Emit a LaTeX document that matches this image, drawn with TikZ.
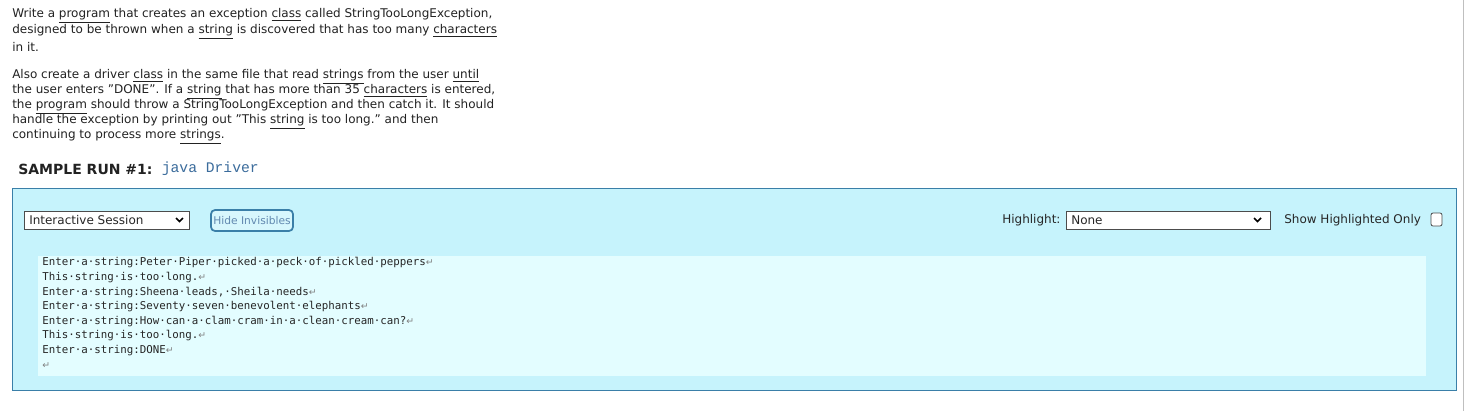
\documentclass[tikz,border=0pt]{standalone}
\usepackage{fontspec}
\setmainfont{DejaVu Sans}
\newfontfamily\dmono{DejaVu Sans Mono}
\newfontfamily\cour{Liberation Mono}
\definecolor{txt}{HTML}{222222}
\definecolor{panel}{HTML}{C6F3FC}
\definecolor{inner}{HTML}{E3FDFF}
\definecolor{pborder}{HTML}{3A7FA8}
\definecolor{jblue}{HTML}{3B6C9C}
\newcommand{\ul}[1]{\underline{#1}}
\newcommand{\rt}{{\color{gray}\fontspec{DejaVu Sans}\scriptsize ↵}}
\begin{document}
\begin{tikzpicture}[x=0.75pt,y=-0.75pt,
  para/.style={anchor=west,inner sep=0pt,font=\fontsize{9}{10}\selectfont,text=txt},
  mono/.style={anchor=west,inner sep=0pt,font=\dmono\fontsize{8.1}{9}\selectfont,text=black!85},
  ui/.style={anchor=west,inner sep=0pt,font=\fontsize{9}{10}\selectfont,text=black!85}]
\useasboundingbox (0,0) rectangle (1469,411);
\fill[white] (0,0) rectangle (1469,411);
\node[para] (l1) at (12,16) {Write a \ul{program} that creates an exception \ul{class} called StringTooLongException,};
\node[para] (l2) at (12,32) {designed to be thrown when a \ul{string} is discovered that has too many \ul{characters}};
\node[para] (l3) at (12,47) {in it.};
\node[para] (l4) at (12,77) {Also create a driver \ul{class} in the same file that read \ul{strings} from the user \ul{until}};
\node[para] (l5) at (12,92) {the user enters "DONE". If a \ul{string} that has more than 35 \ul{characters} is entered,};
\node[para] (l6) at (12,107) {the \ul{program} should throw a StringTooLongException and then catch it. It should};
\node[para] (l7) at (12,122) {handle the exception by printing out "This \ul{string} is too long." and then};
\node[para] (l8) at (12,137) {continuing to process more \ul{strings}.};
\node[anchor=west,inner sep=0pt,font=\bfseries\fontsize{10.5}{12}\selectfont,text=txt] (sr) at (18,169) {SAMPLE RUN \#1:};
\node[anchor=west,inner sep=0pt,font=\cour\fontsize{11}{12}\selectfont,text=jblue] (jd) at (sr.east) {\ java Driver};
% panel
\draw[fill=panel,draw=pborder,line width=0.75pt] (12,188) rectangle (1456,390);
\draw[black!25,line width=0.75pt] (1463,0) -- (1463,411);
\fill[inner] (38,256) rectangle (1426,376);
% controls
\draw[fill=white,draw=black!70,line width=0.6pt] (24,211) rectangle (189,229);
\node[ui] (is) at (29,220) {Interactive Session};
\draw[line width=1.1pt,black] (176,218) -- (179.5,221.5) -- (183,218);
\draw[fill=panel!70!white,draw=pborder,line width=1.3pt,rounded corners=3pt] (211,210) rectangle (293,231);
\node[anchor=center,inner sep=0pt,font=\fontsize{8}{9}\selectfont,text=jblue!80] (hi) at (252,220.5) {Hide Invisibles};
\node[ui] (hl) at (1002,220) {Highlight:};
\draw[fill=white,draw=black!70,line width=0.6pt] (1066,211) rectangle (1270,229);
\node[ui] (none) at (1071,220) {None};
\draw[line width=1.1pt,black] (1254,218) -- (1257.5,221.5) -- (1261,218);
\node[ui] (sho) at (1284,220) {Show Highlighted Only};
\draw[fill=white,draw=black!70,line width=0.6pt,rounded corners=1.5pt] (1431,213) rectangle (1442,226);
% session
\node[mono] (s1) at (42,263) {Enter·a·string:Peter·Piper·picked·a·peck·of·pickled·peppers\rt};
\node[mono] (s2) at (42,277.6) {This·string·is·too·long.\rt};
\node[mono] (s3) at (42,292.2) {Enter·a·string:Sheena·leads,·Sheila·needs\rt};
\node[mono] (s4) at (42,306.8) {Enter·a·string:Seventy·seven·benevolent·elephants\rt};
\node[mono] (s5) at (42,321.4) {Enter·a·string:How·can·a·clam·cram·in·a·clean·cream·can?\rt};
\node[mono] (s6) at (42,336) {This·string·is·too·long.\rt};
\node[mono] (s7) at (42,350.6) {Enter·a·string:DONE\rt};
\node[mono] (s8) at (42,365.2) {\rt};
\end{tikzpicture}
\end{document}
